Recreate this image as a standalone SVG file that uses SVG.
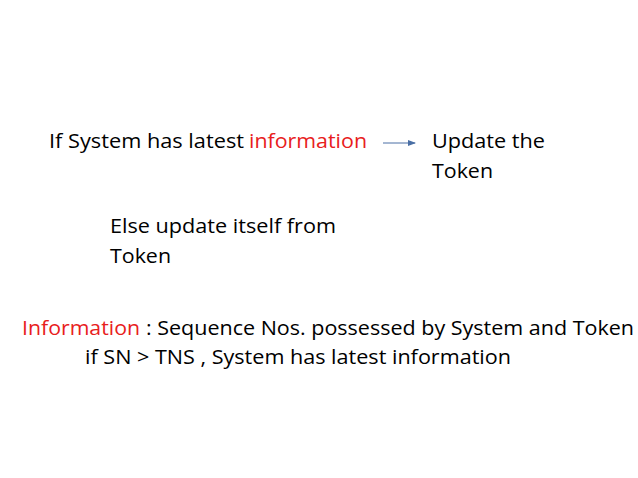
<svg xmlns="http://www.w3.org/2000/svg" width="638" height="478" viewBox="0 0 638 478">
<style>
text{font-family:"Open Sans","Liberation Sans",sans-serif;font-size:20px;fill:#000}
.r{fill:#e8201c}
</style>
<defs><marker id="a" markerWidth="8" markerHeight="6" refX="7" refY="3" orient="auto"><path d="M0,0 L8,3 L0,6 z" fill="#4a6fa5"/></marker></defs>
<rect width="638" height="478" fill="#fff"/>
<g id="n1"><text x="49" y="148" textLength="195" lengthAdjust="spacingAndGlyphs">If System has latest</text><text class="r" x="249" y="148" textLength="118" lengthAdjust="spacingAndGlyphs">information</text></g>
<g id="n2"><text x="432" y="148" textLength="113" lengthAdjust="spacingAndGlyphs">Update the</text><text x="432" y="178" textLength="61" lengthAdjust="spacingAndGlyphs">Token</text></g>
<g id="n3"><text x="110" y="233" textLength="226" lengthAdjust="spacingAndGlyphs">Else update itself from</text><text x="110" y="263" textLength="61" lengthAdjust="spacingAndGlyphs">Token</text></g>
<g id="n4"><text class="r" x="22" y="335" textLength="118" lengthAdjust="spacingAndGlyphs">Information</text><text x="146" y="335" textLength="488" lengthAdjust="spacingAndGlyphs">: Sequence Nos. possessed by System and Token</text><text x="85" y="364" textLength="426" lengthAdjust="spacingAndGlyphs">if SN &gt; TNS , System has latest information</text></g>
<g id="connectors"><line x1="383" y1="143" x2="415" y2="143" stroke="#4a6fa5" stroke-width="1" marker-end="url(#a)"/></g>
</svg>
